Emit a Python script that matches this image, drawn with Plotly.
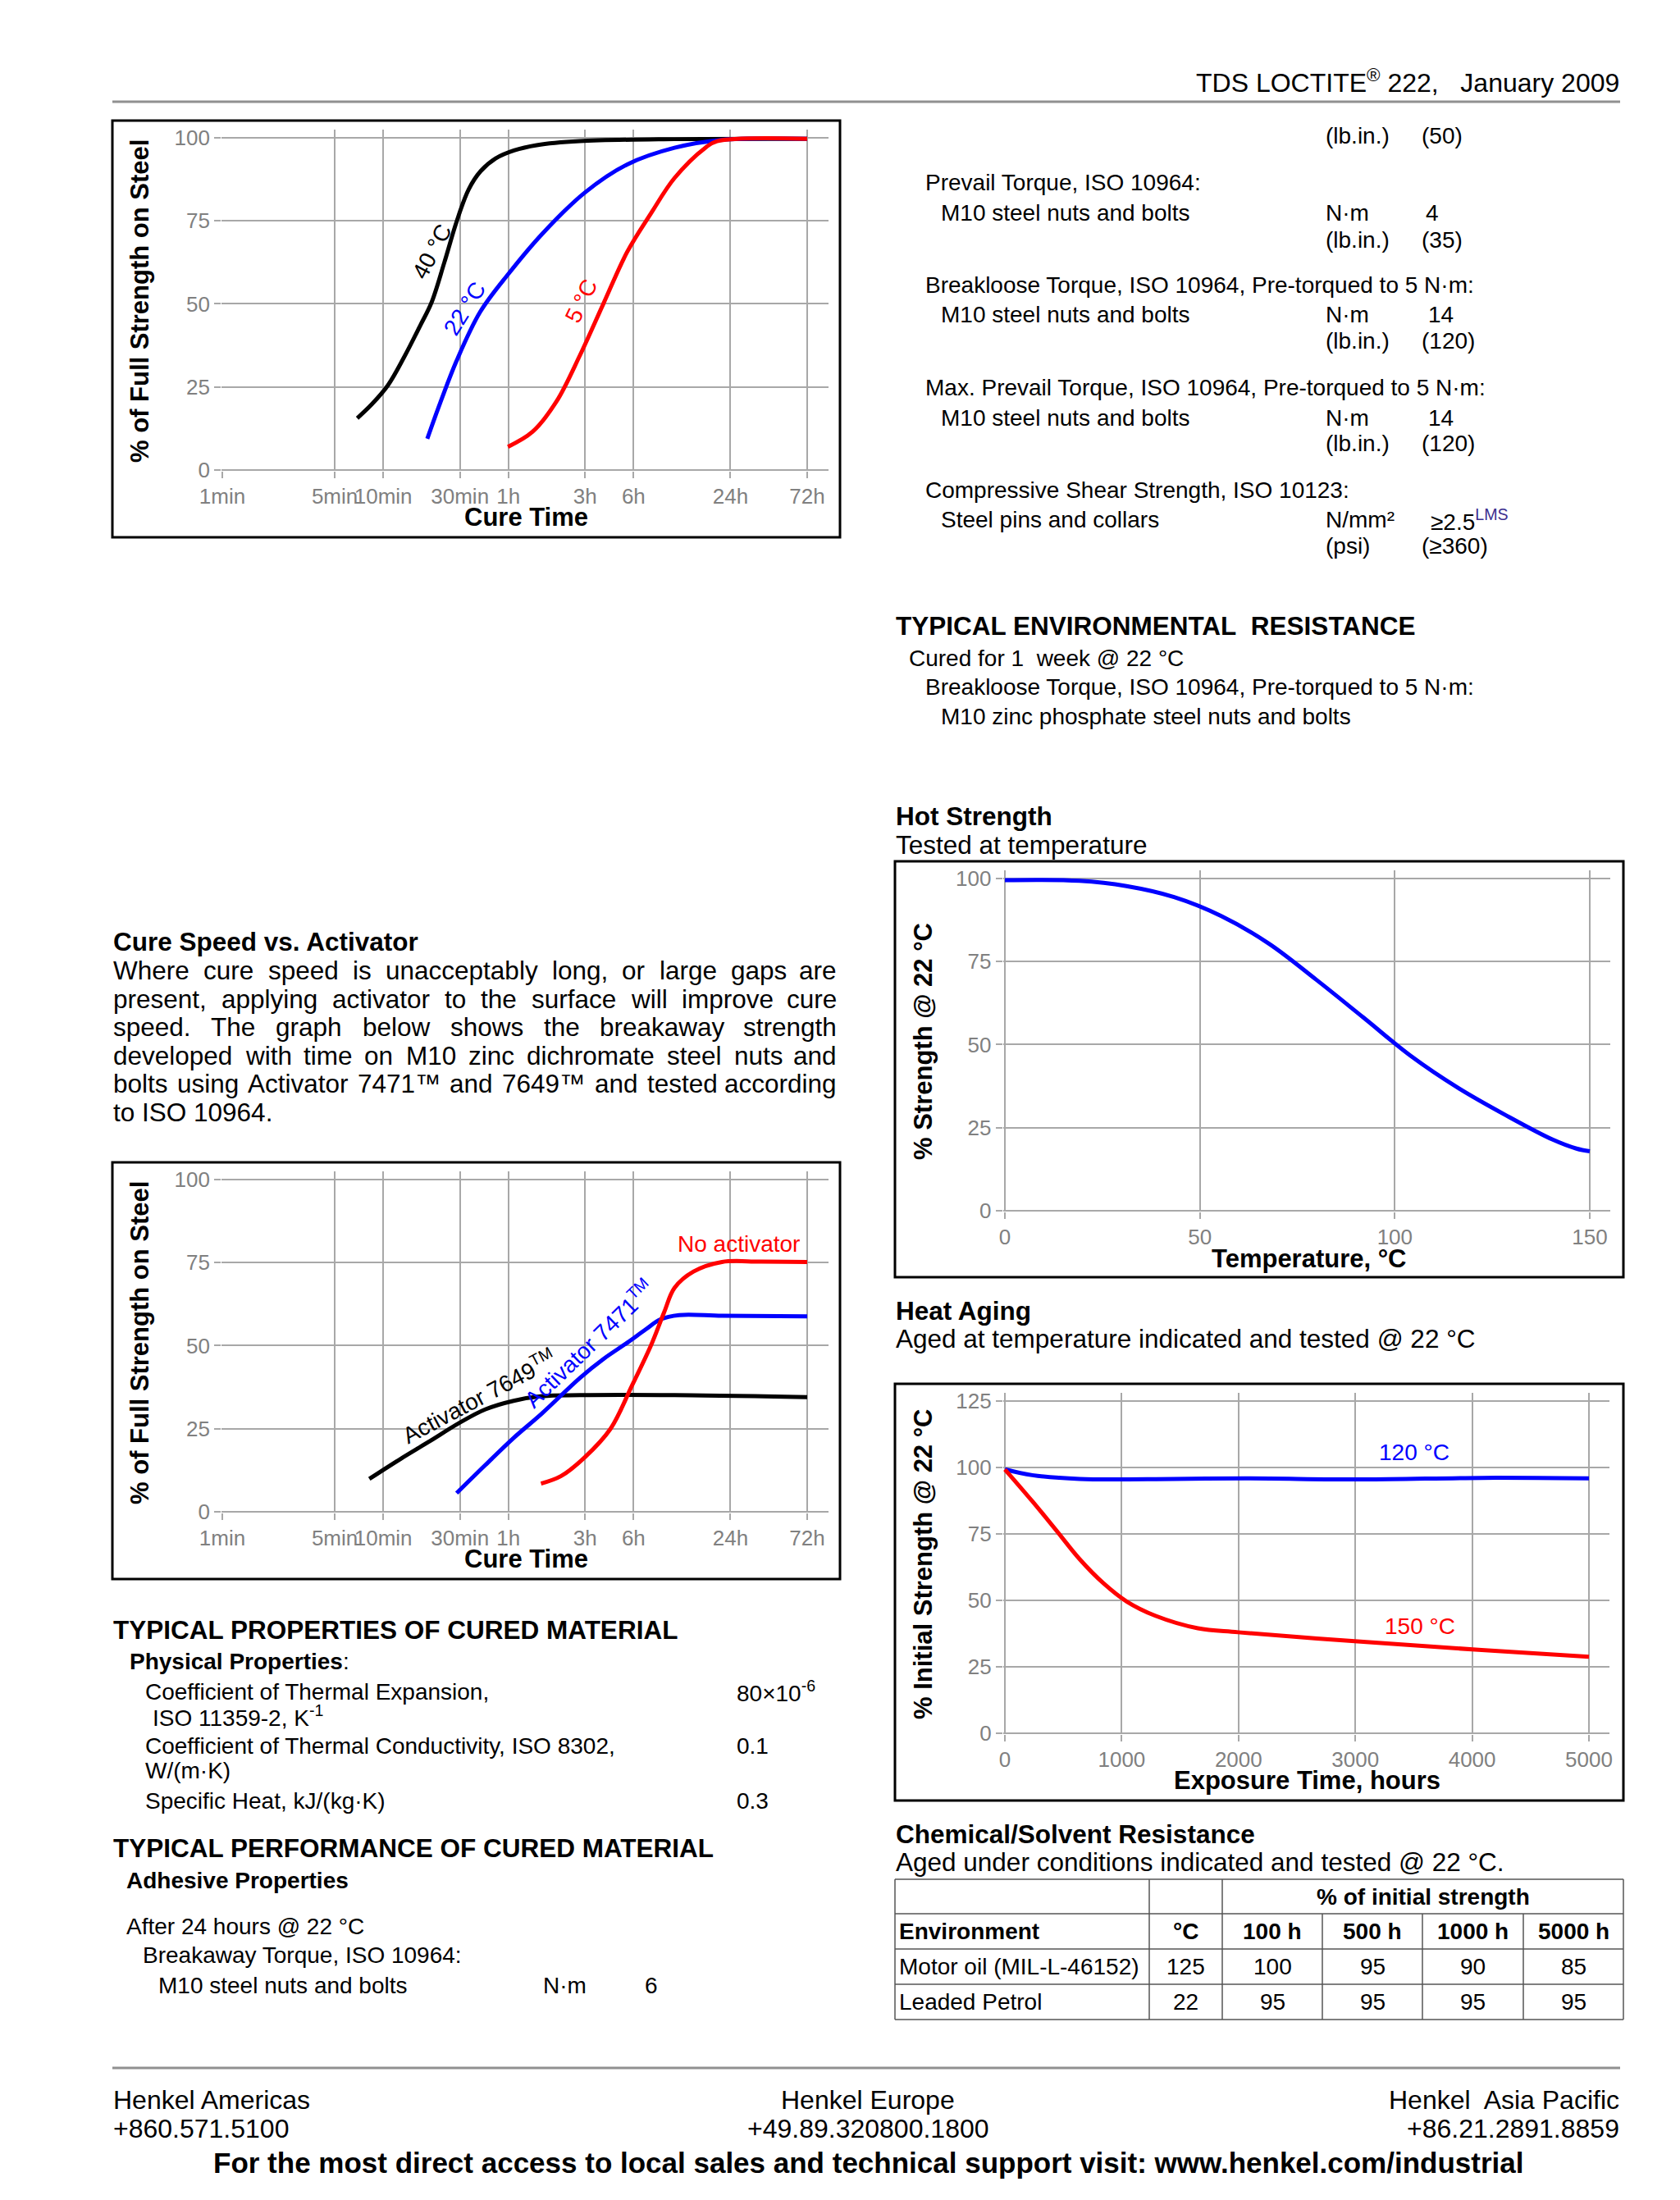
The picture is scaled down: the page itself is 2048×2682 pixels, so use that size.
import math
import plotly.graph_objects as go

W, H = 2048, 2682
FONT = "Liberation Sans, Arial, Helvetica, sans-serif"
GRID = "#a8a8a8"
TICKC = "#808080"

# ---------------- data ----------------
cure_tickvals = [1, 5, 10, 30, 60, 180, 360, 1440, 4320]
cure_ticktext = ["1min", "5min", "10min", "30min", "1h", "3h", "6h", "24h", "72h"]
pct_ticks = [0, 25, 50, 75, 100]

cure40_t = [6.9, 8.5, 10.7, 13.5, 17, 20, 24, 28.7, 34, 40.4, 50, 65, 90, 167, 647, 4320]
cure40_v = [15.6, 19.8, 25.5, 34.0, 43.5, 50.5, 62.5, 75, 84.5, 90, 93.8, 96.2, 97.8, 99.0, 99.6, 99.7]
cure22_t = [18.8, 21.8, 28.6, 40.2, 60.4, 97, 179, 329, 647, 1276, 4320]
cure22_v = [9.4, 18.1, 32.9, 47.7, 59.2, 71.0, 83.5, 92.0, 97.0, 99.4, 99.7]
cure5_t = [59.6, 84.7, 119, 167, 234, 329, 461, 647, 1005, 1189, 4320]
cure5_v = [7.0, 11.5, 20.5, 34.5, 50.1, 65.7, 77.2, 87.9, 97.0, 99.0, 99.7]

act7649_t = [8.2, 12.7, 19.1, 29.6, 43, 64.6, 97, 167, 647, 4320]
act7649_v = [9.9, 15.8, 21.0, 26.7, 30.8, 33.4, 34.8, 35.1, 35.1, 34.5]
act7471_t = [28.6, 43, 64.6, 97, 167, 234, 329, 431, 528, 692, 1276, 4320]
act7471_v = [5.6, 14.0, 22.2, 29.6, 40.3, 46.0, 50.9, 55.0, 57.9, 59.2, 59.0, 58.8]
noact_t = [95.7, 127, 179, 259, 352, 461, 557, 647, 849, 1276, 2200, 4320]
noact_v = [8.5, 10.7, 16.4, 25.0, 38.0, 50.0, 60.0, 67.4, 72.3, 75.2, 75.3, 75.2]

hot_ticks = [0, 50, 100, 150]
hot_T = [0, 19.1, 31.2, 43.4, 55.5, 67.7, 79.8, 91.9, 104.1, 116.2, 128.4, 140.5, 146.6, 150]
hot_v = [99.5, 99.3, 97.7, 94.4, 88.7, 80.4, 69.6, 58.2, 46.6, 37.0, 28.8, 21.4, 18.7, 17.9]

age_xticks = [0, 1000, 2000, 3000, 4000, 5000]
age_yticks = [0, 25, 50, 75, 100, 125]
age120_h = [0, 235, 640, 1449, 2057, 3069, 4081, 5000]
age120_v = [99.3, 97.1, 95.7, 95.7, 95.9, 95.5, 96.1, 95.9]
age150_h = [0, 235, 437, 640, 842, 1045, 1288, 1652, 1996, 3069, 4081, 5000]
age150_v = [99.3, 87.3, 76.5, 65.5, 56.5, 49.5, 44.2, 39.5, 38.0, 34.4, 31.3, 28.8]

chem_env = ["Motor oil (MIL-L-46152)", "Leaded Petrol"]
chem_temp = [125, 22]
chem_hours = ["100 h", "500 h", "1000 h", "5000 h"]
chem_vals = [[100, 95, 90, 85], [95, 95, 95, 95]]

# ---------------- helpers ----------------
ann = []
shapes = []


def txt(s, x, y, size=28, anchor="left", color="black", angle=0, bold=False):
    if bold:
        s = "<b>" + s + "</b>"
    ann.append(dict(text=s, x=x / W, y=1 - y / H, xref="paper", yref="paper",
                    xanchor=anchor, yanchor="middle", showarrow=False,
                    font=dict(family=FONT, size=size, color=color),
                    textangle=angle, borderpad=0))


def hline(x0, x1, y, color="#909090", w=3):
    shapes.append(dict(type="line", xref="paper", yref="paper",
                       x0=x0 / W, x1=x1 / W, y0=1 - y / H, y1=1 - y / H,
                       line=dict(color=color, width=w)))


def vline(x, y0, y1, color="#555555", w=1.5):
    shapes.append(dict(type="line", xref="paper", yref="paper",
                       x0=x / W, x1=x / W, y0=1 - y0 / H, y1=1 - y1 / H,
                       line=dict(color=color, width=w)))


def box(x0, y0, x1, y1, color="black", w=3):
    shapes.append(dict(type="rect", xref="paper", yref="paper",
                       x0=x0 / W, x1=x1 / W, y0=1 - y1 / H, y1=1 - y0 / H,
                       line=dict(color=color, width=w), fillcolor="rgba(0,0,0,0)"))


AW = {' ': 278, ',': 278, '.': 278, '(': 333, ')': 333, '-': 333, ':': 278, '™': 1000,
      'A': 667, 'B': 667, 'C': 722, 'D': 722, 'E': 667, 'F': 611, 'G': 778, 'H': 722,
      'I': 278, 'J': 500, 'K': 667, 'L': 556, 'M': 833, 'N': 722, 'O': 778, 'P': 667,
      'Q': 778, 'R': 722, 'S': 667, 'T': 611, 'U': 722, 'V': 667, 'W': 944, 'X': 667,
      'Y': 667, 'Z': 611,
      'a': 556, 'b': 556, 'c': 500, 'd': 556, 'e': 556, 'f': 278, 'g': 556, 'h': 556,
      'i': 222, 'j': 222, 'k': 500, 'l': 222, 'm': 833, 'n': 556, 'o': 556, 'p': 556,
      'q': 556, 'r': 333, 's': 500, 't': 278, 'u': 556, 'v': 500, 'w': 722, 'x': 500,
      'y': 500, 'z': 500}


def tw(s, size):
    return sum(AW.get(c, 556) for c in s) * size / 1000.0


def justify(lines, left, right, y0, dy, size):
    for i, line in enumerate(lines):
        y = y0 + i * dy
        if i == len(lines) - 1:
            txt(line, left, y, size)
            continue
        words = line.split(" ")
        ws = [tw(w, size) for w in words]
        gap = (right - left - sum(ws)) / (len(words) - 1)
        x = left
        for j, (w, wd) in enumerate(zip(words, ws)):
            if j == len(words) - 1:
                txt(w, right, y, size, anchor="right")
            else:
                txt(w, x, y, size)
            x += wd + gap


def lin(cal, v):
    pa, va, pb, vb = cal
    return pa + (v - va) * (pb - pa) / (vb - va)


fig = go.Figure()

charts = [
    dict(xcal=(271, 0, 984, math.log10(4320)), xr=[-0.004, 3.77], xt="log",
         ycal=(573, 0, 168, 100), yr=[-0.3, 102.5],
         xtv=cure_tickvals, xtt=cure_ticktext, ytv=pct_ticks),
    dict(xcal=(271, 0, 984, math.log10(4320)), xr=[-0.004, 3.77], xt="log",
         ycal=(1843, 0, 1438, 100), yr=[-0.3, 102.5],
         xtv=cure_tickvals, xtt=cure_ticktext, ytv=pct_ticks),
    dict(xcal=(1225, 0, 1938, 150), xr=[-0.5, 155.2], xt="linear",
         ycal=(1476, 0, 1071, 100), yr=[-0.3, 102.5],
         xtv=hot_ticks, xtt=[str(v) for v in hot_ticks], ytv=pct_ticks),
    dict(xcal=(1225, 0, 1937, 5000), xr=[-15, 5176], xt="linear",
         ycal=(2113, 0, 1708, 125), yr=[-0.4, 128],
         xtv=age_xticks, xtt=[str(v) for v in age_xticks], ytv=age_yticks),
]

layout_axes = {}
for i, c in enumerate(charts):
    n = "" if i == 0 else str(i + 1)
    x0p = lin(c["xcal"], c["xr"][0])
    x1p = lin(c["xcal"], c["xr"][1])
    yb = lin(c["ycal"], c["yr"][0])
    yt = lin(c["ycal"], c["yr"][1])
    layout_axes["xaxis" + n] = dict(
        domain=[x0p / W, x1p / W], anchor="y" + n, type=c["xt"], range=c["xr"],
        tickmode="array", tickvals=c["xtv"], ticktext=c["xtt"], tickangle=0,
        automargin=False,
        showgrid=True, gridcolor=GRID, gridwidth=1.5, zeroline=False, showline=False,
        ticks="outside", ticklen=8, tickwidth=1.5, tickcolor=GRID,
        tickfont=dict(family=FONT, size=26, color=TICKC), fixedrange=True)
    layout_axes["yaxis" + n] = dict(
        domain=[1 - yb / H, 1 - yt / H], anchor="x" + n, range=c["yr"],
        tickmode="array", tickvals=c["ytv"], tickangle=0,
        automargin=False,
        showgrid=True, gridcolor=GRID, gridwidth=2, zeroline=False, showline=False,
        ticks="outside", ticklen=8, tickwidth=2, tickcolor=GRID,
        tickfont=dict(family=FONT, size=26, color=TICKC), fixedrange=True)


def curve(x, y, color, n=""):
    fig.add_trace(go.Scatter(x=x, y=y, mode="lines", xaxis="x" + n, yaxis="y" + n,
                             line=dict(color=color, width=5, shape="spline", smoothing=1.0),
                             hoverinfo="skip", showlegend=False))


curve(cure40_t, cure40_v, "#000000")
curve(cure22_t, cure22_v, "#0000ff")
curve(cure5_t, cure5_v, "#ff0000")
curve(act7649_t, act7649_v, "#000000", "2")
curve(act7471_t, act7471_v, "#0000ff", "2")
curve(noact_t, noact_v, "#ff0000", "2")
curve(hot_T, hot_v, "#0000ff", "3")
curve(age120_h, age120_v, "#0000ff", "4")
curve(age150_h, age150_v, "#ff0000", "4")

# chart boxes
box(137, 147, 1024, 655)
box(137, 1417, 1024, 1925)
box(1091, 1050, 1979, 1557)
box(1091, 1687, 1979, 2195)

# axis titles
txt("% of Full Strength on Steel", 170, 367, 31, "center", angle=-90, bold=True)
txt("% of Full Strength on Steel", 170, 1637, 31, "center", angle=-90, bold=True)
txt("% Strength @ 22 °C", 1125, 1270, 31, "center", angle=-90, bold=True)
txt("% Initial Strength @ 22 °C", 1125, 1907, 31, "center", angle=-90, bold=True)
txt("Cure Time", 641, 630, 31, "center", bold=True)
txt("Cure Time", 641, 1900, 31, "center", bold=True)
txt("Temperature, °C", 1596, 1534, 31, "center", bold=True)
txt("Exposure Time, hours", 1593, 2170, 31, "center", bold=True)

# curve labels
txt("40 °C", 527, 307, 28, "center", "#000000", angle=-62)
txt("22 °C", 566, 376, 28, "center", "#0000ff", angle=-58)
txt("5 °C", 708, 367, 28, "center", "#ff0000", angle=-64)
txt("No activator", 900, 1517, 28, "center", "#ff0000")
txt("Activator 7649<sup>TM</sup>", 583, 1702, 28, "center", "#000000", angle=-28)
txt("Activator 7471<sup>TM</sup>", 717, 1638, 28, "center", "#0000ff", angle=-44)
txt("120 °C", 1724, 1770, 28, "center", "#0000ff")
txt("150 °C", 1731, 1982, 28, "center", "#ff0000")

# header / footer
txt("TDS LOCTITE<sup>®</sup> 222,\u00a0\u00a0\u00a0January 2009", 1975, 99, 32, "right")
hline(137, 1975, 124, "#909090", 3)
hline(137, 1975, 2521, "#909090", 3)
txt("Henkel Americas", 137, 2560, 32)
txt("+860.571.5100", 137, 2595, 32)
txt("Henkel Europe", 1058, 2560, 32, "center")
txt("+49.89.320800.1800", 1058, 2595, 32, "center")
txt("Henkel\u00a0 Asia Pacific", 1975, 2560, 32, "right")
txt("+86.21.2891.8859", 1975, 2595, 32, "right")
txt("For the most direct access to local sales and technical support visit: www.henkel.com/industrial",
    1058, 2636, 35, "center", bold=True)

# right column specs
R1, R2, UC = 1127, 1146, 1615
txt("(lb.in.)", UC, 166); txt("(50)", 1732, 166)
txt("Prevail Torque, ISO 10964:", R1, 223)
txt("M10 steel nuts and bolts", R2, 259); txt("N·m", UC, 259); txt("4", 1737, 259)
txt("(lb.in.)", UC, 292); txt("(35)", 1732, 292)
txt("Breakloose Torque, ISO 10964, Pre-torqued to 5 N·m:", R1, 348)
txt("M10 steel nuts and bolts", R2, 384); txt("N·m", UC, 384); txt("14", 1740, 384)
txt("(lb.in.)", UC, 416); txt("(120)", 1732, 416)
txt("Max. Prevail Torque, ISO 10964, Pre-torqued to 5 N·m:", R1, 473)
txt("M10 steel nuts and bolts", R2, 509); txt("N·m", UC, 509); txt("14", 1740, 509)
txt("(lb.in.)", UC, 541); txt("(120)", 1732, 541)
txt("Compressive Shear Strength, ISO 10123:", R1, 598)
txt("Steel pins and collars", R2, 634); txt("N/mm²", UC, 634)
txt("≥2.5<sup><span style='color:#3b2f8f'>LMS</span></sup>", 1743, 634)
txt("(psi)", UC, 666); txt("(≥360)", 1732, 666)

txt("TYPICAL ENVIRONMENTAL\u00a0 RESISTANCE", 1091, 763, 31.5, bold=True)
txt("Cured for 1\u00a0 week @ 22 °C", 1107, 802)
txt("Breakloose Torque, ISO 10964, Pre-torqued to 5 N·m:", R1, 837)
txt("M10 zinc phosphate steel nuts and bolts", R2, 873)

txt("Hot Strength", 1091, 995, 31.5, bold=True)
txt("Tested at temperature", 1091, 1030, 31.5)
txt("Heat Aging", 1091, 1598, 31.5, bold=True)
txt("Aged at temperature indicated and tested @ 22 °C", 1091, 1632, 31.5)
txt("Chemical/Solvent Resistance", 1091, 2236, 31.5, bold=True)
txt("Aged under conditions indicated and tested @ 22 °C.", 1091, 2270, 31.5)

# chemical table
cols = [1091, 1401, 1490, 1612, 1734, 1857, 1979]
rows = [2291, 2333, 2376, 2419, 2462]
for yv in rows:
    hline(cols[0], cols[-1], yv, "#555555", 1.5)
for k, xv in enumerate(cols):
    if k in (0, 1, 2, 6):
        vline(xv, rows[0], rows[-1])
    else:
        vline(xv, rows[1], rows[-1])
txt("% of initial strength", (cols[2] + cols[6]) / 2, (rows[0] + rows[1]) / 2, 28, "center", bold=True)
ymid = (rows[1] + rows[2]) / 2
txt("Environment", cols[0] + 4, ymid, 28, bold=True)
txt("°C", (cols[1] + cols[2]) / 2, ymid, 28, "center", bold=True)
for j, hname in enumerate(chem_hours):
    txt(hname, (cols[2 + j] + cols[3 + j]) / 2, ymid, 28, "center", bold=True)
for r, env in enumerate(chem_env):
    yy = (rows[2 + r] + rows[3 + r]) / 2
    txt(env, cols[0] + 4, yy, 28)
    txt(str(chem_temp[r]), (cols[1] + cols[2]) / 2, yy, 28, "center")
    for j, v in enumerate(chem_vals[r]):
        txt(str(v), (cols[2 + j] + cols[3 + j]) / 2, yy, 28, "center")

# left column text
txt("Cure Speed vs. Activator", 137, 1148, 31.5, bold=True)
para = ["Where cure speed is unacceptably long, or large gaps are",
        "present, applying activator to the surface will improve cure",
        "speed. The graph below shows the breakaway strength",
        "developed with time on M10 zinc dichromate steel nuts and",
        "bolts using Activator 7471™ and 7649™ and tested according",
        "to ISO 10964."]
justify(para, 137, 1021, 1183, 34.6, 31.5)

txt("TYPICAL PROPERTIES OF CURED MATERIAL", 137, 1987, 31.5, bold=True)
txt("<b>Physical Properties</b>:", 157, 2025, 28)
txt("Coefficient of Thermal Expansion,", 176, 2062)
txt("80×10<sup>-6</sup>", 897, 2062)
txt("ISO 11359-2, K<sup>-1</sup>", 185, 2092)
txt("Coefficient of Thermal Conductivity, ISO 8302,", 176, 2128)
txt("0.1", 897, 2128)
txt("W/(m·K)", 176, 2158)
txt("Specific Heat, kJ/(kg·K)", 176, 2195)
txt("0.3", 897, 2195)
txt("TYPICAL PERFORMANCE OF CURED MATERIAL", 137, 2253, 31.5, bold=True)
txt("Adhesive Properties", 153, 2292, 28, bold=True)
txt("After 24 hours @ 22 °C", 153, 2348)
txt("Breakaway Torque, ISO 10964:", 173, 2383)
txt("M10 steel nuts and bolts", 192, 2420)
txt("N·m", 661, 2420)
txt("6", 785, 2420)

fig.update_layout(width=W, height=H,
                  margin=dict(l=0, r=0, t=0, b=0, pad=0, autoexpand=False),
                  paper_bgcolor="white", plot_bgcolor="white", showlegend=False,
                  annotations=ann, shapes=shapes, font=dict(family=FONT),
                  **layout_axes)
fig.write_html("out.html", config={"displayModeBar": False},
               post_script="document.body.style.margin='0px';document.body.style.overflow='hidden';")
